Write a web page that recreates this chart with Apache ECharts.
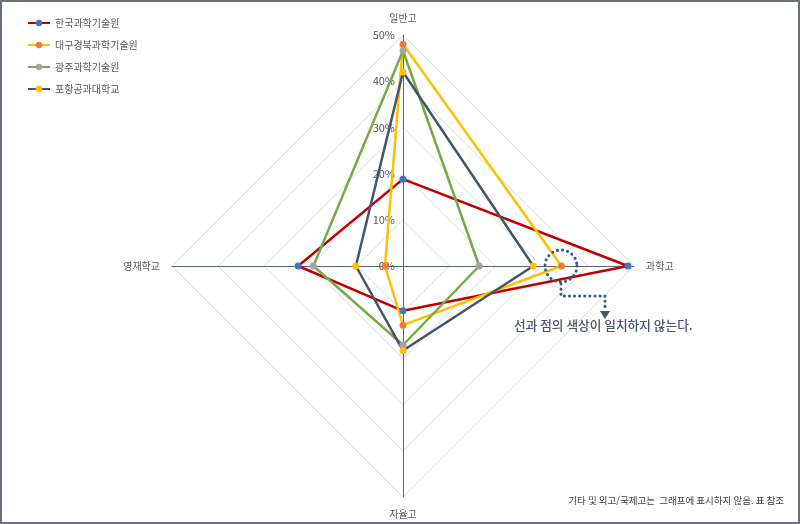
<!DOCTYPE html>
<html lang="ko">
<head>
    <meta charset="UTF-8">
    <title>학교 유형별 신입생 비율</title>
    <script src="https://cdn.jsdelivr.net/npm/echarts@6/dist/echarts.min.js"></script>
    <style>
        html, body { margin: 0; padding: 0; background: #fff; }
        #main { width: 800px; height: 524px; }
    </style>
</head>
<body>
<div id="main"></div>
<script type="text/javascript">
    // 축 순서: 위, 왼쪽, 아래, 오른쪽 (레이더는 반시계 방향으로 배치)
    var axes = ['일반고', '영재학교', '자율고', '과학고'];
    var schools = ['한국과학기술원', '대구경북과학기술원', '광주과학기술원', '포항공과대학교'];

    // 단위: %
    var kaist = [18.8, 22.7, 9.7, 48.7];
    var dgist = [48.0, 3.9, 12.8, 34.3];
    var gist = [46.6, 19.4, 17.1, 16.5];
    var postech = [42.0, 10.2, 18.3, 28.2];
    var values = [kaist, dgist, gist, postech];

    var maxValue = 50;
    var splitCount = 5;

    // 선 색과 점 색이 서로 다름
    var lineColors = ['#C00000', '#FFC000', '#70AD47', '#44546A'];
    var dotColors = ['#4472C4', '#ED7D31', '#A5A5A5', '#FFC000'];

    var font = '"Noto Sans CJK KR", "Noto Sans", sans-serif';
    var myChart = echarts.init(document.getElementById('main'));

    var series = [];
    // 범례 아이콘(선 + 점)용 빈 꺾은선 시리즈
    schools.forEach(function (name, i) {
        series.push({
            name: name,
            type: 'line',
            data: [],
            symbol: 'circle',
            symbolSize: 6,
            lineStyle: { color: lineColors[i], width: 3 },
            itemStyle: { color: dotColors[i] }
        });
    });
    schools.forEach(function (name, i) {
        series.push({
            name: name,
            type: 'radar',
            symbol: 'circle',
            symbolSize: 7,
            lineStyle: { color: lineColors[i], width: 2.5 },
            itemStyle: { color: dotColors[i] },
            data: [{ name: name, value: values[i] }]
        });
    });

    var dotted = { fill: 'none', stroke: '#35578F', lineWidth: 3, lineDash: [0.1, 5], lineCap: 'round' };

    var option = {
        animation: false,
        textStyle: { fontFamily: font },
        legend: {
            orient: 'vertical',
            left: 22,
            top: 13,
            itemWidth: 22,
            itemHeight: 8,
            itemGap: 12,
            data: schools,
            textStyle: { fontSize: 10, color: '#595959', fontFamily: font }
        },
        grid: { show: false },
        xAxis: { type: 'category', show: false, data: [] },
        yAxis: { type: 'value', show: false },
        radar: {
            center: [403, 266],
            radius: 231,
            splitNumber: splitCount,
            shape: 'polygon',
            nameGap: 12,
            axisName: { color: '#595959', fontSize: 10, fontFamily: font },
            axisLine: { lineStyle: { color: '#5B6578', width: 1 } },
            splitLine: { lineStyle: { color: '#D9D9D9', width: 1 } },
            splitArea: { show: false },
            axisTick: { show: false },
            axisLabel: { show: false },
            indicator: axes.map(function (name, i) {
                var ind = { name: name, min: 0, max: maxValue };
                if (i === 0) {
                    ind.axisLabel = {
                        show: true,
                        color: '#595959',
                        fontSize: 11,
                        fontFamily: font,
                        formatter: '{value}%'
                    };
                }
                return ind;
            })
        },
        graphic: [
            {
                type: 'rect',
                shape: { x: 1, y: 1, width: 798, height: 522 },
                style: { fill: 'none', stroke: '#6B717C', lineWidth: 2 },
                silent: true
            },
            {
                type: 'circle',
                shape: { cx: 561, cy: 266, r: 16 },
                style: dotted,
                z: 100
            },
            {
                type: 'polyline',
                shape: { points: [[561, 284], [561, 296], [605, 296], [605, 310]] },
                style: dotted,
                z: 100
            },
            {
                type: 'polygon',
                shape: { points: [[600, 311], [610, 311], [605, 319]] },
                style: { fill: '#44546A' },
                z: 100
            },
            {
                type: 'text',
                left: 514,
                top: 319,
                style: {
                    text: '선과 점의 색상이 일치하지 않는다.',
                    fill: '#44546A',
                    font: '500 12.7px ' + font
                },
                z: 100
            },
            {
                type: 'text',
                right: 16,
                top: 496,
                style: {
                    text: '기타 및 외고/국제고는  그래프에 표시하지 않음. 표 참조',
                    fill: '#404040',
                    font: '9.5px ' + font
                }
            }
        ],
        series: series
    };

    myChart.setOption(option);
</script>
</body>
</html>
